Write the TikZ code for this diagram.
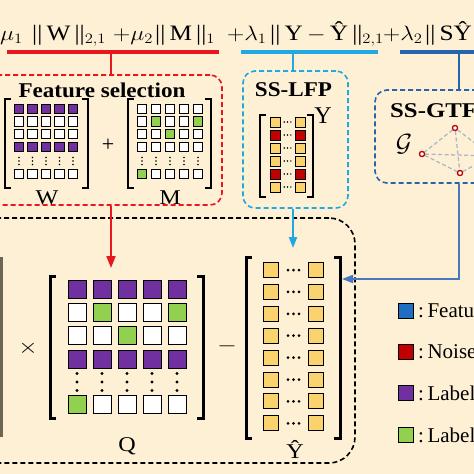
\documentclass[tikz,border=0pt]{standalone}
\usepackage{graphicx}
\usepackage{fontspec}
\setmainfont{Liberation Serif}
\usetikzlibrary{arrows.meta}
\definecolor{bg}{HTML}{FDF0D5}
\definecolor{cpurple}{HTML}{7030A0}
\definecolor{cgreen}{HTML}{92D050}
\definecolor{cyellow}{HTML}{FAD36E}
\definecolor{cred}{HTML}{C00000}
\definecolor{cblue}{HTML}{1F6EC0}
\definecolor{lred}{HTML}{E8161E}
\definecolor{lcyan}{HTML}{22A8E0}
\definecolor{dblue}{HTML}{2565AE}
\definecolor{ablue}{HTML}{4A78C0}
\definecolor{gbar}{HTML}{6E6654}
\definecolor{gline}{HTML}{AEB6C8}
\newcommand\wide[2]{\scalebox{#1}[1]{#2}}
\tikzset{
  cell/.style={draw=black, line width=0.9pt, inner sep=0pt, outer sep=0pt},
  brk/.style={draw=black, line cap=butt, line join=miter},
  eqtext/.style={inner sep=0pt, anchor=base west, font=\fontsize{22}{26}\selectfont},
  ttl/.style={inner sep=0pt, font=\fontsize{21}{24}\selectfont\bfseries},
  lbl/.style={inner sep=0pt, font=\fontsize{21}{24}\selectfont},
  dashbox/.style={line width=1.6pt, dash pattern=on 5pt off 3pt, rounded corners=12pt, inner sep=0pt, fill=none},
  gnode/.style={circle, draw=cred, fill=white, line width=1.2pt, minimum size=5pt, inner sep=0pt},
  gedge/.style={draw=gline, line width=1.3pt, dash pattern=on 4pt off 2.5pt},
  legsq/.style={draw=black, line width=0.9pt, minimum size=15pt, inner sep=0pt},
  legtxt/.style={inner sep=0pt, anchor=west, font=\fontsize{21}{24}\selectfont},
}
\newcommand\cellrow[6]{\foreach \cc [count=\k] in {#6}{\node[cell, minimum size=#5pt, fill=\cc] (#1-\k) at ({#3+(\k-1)*#4},#2) {};}}
\newcommand\vdotsat[4]{\foreach \dd in {-1,0,1}{\fill ({#1},{#2+\dd*#3}) circle[radius=#4pt];}}
\newcommand\hdotsat[4]{\foreach \dd in {-1,0,1}{\fill ({#1+\dd*#3},{#2}) circle[radius=#4pt];}}
\newcommand\lbrak[4]{\draw[brk, line width=#4pt] ({#1+6},#2) -- (#1,#2) -- (#1,#3) -- ({#1+6},#3);}
\newcommand\rbrak[4]{\draw[brk, line width=#4pt] ({#1-6},#2) -- (#1,#2) -- (#1,#3) -- ({#1-6},#3);}
\begin{document}
\begin{tikzpicture}[x=1pt,y=-1pt]
\useasboundingbox (0,0) rectangle (474,474);
\fill[bg] (0,0) rectangle (474,474);
\clip (0,0) rectangle (474,474);

% ---- equation
\node[eqtext, anchor=base east] (e1) at (23,40) {\wide{1.15}{$-\mu_1$}};
\node[eqtext] (e2) at (32,40) {\wide{1.15}{||\,W\,||$_{2,1}$}};
\node[eqtext] (e3) at (113,40) {\wide{1.15}{$+\mu_2$}};
\node[eqtext] (e4) at (155,40) {\wide{1.15}{||\,M\,||$_1$}};
\node[eqtext] (e5) at (227,40) {\wide{1.15}{$+\lambda_1$}};
\node[eqtext] (e6) at (270,40) {\wide{1.15}{||\,Y\,$-$\,Ŷ\,||$_{2,1}$}};
\node[eqtext] (e7) at (383,40) {\wide{1.15}{$+\lambda_2$}};
\node[eqtext] (e8) at (425,40) {\wide{1.15}{||\,SŶ}};

% ---- underlines
\coordinate (rl1) at (7,52); \coordinate (rl2) at (219,52);
\coordinate (cl1) at (241,52); \coordinate (cl2) at (378,52);
\coordinate (bl1) at (400,52); \coordinate (bl2) at (480,52);
\draw[lred, line width=3.2pt] (rl1) -- (rl2);
\draw[lcyan, line width=3.2pt] (cl1) -- (cl2);
\draw[dblue, line width=3.2pt] (bl1) -- (bl2);
\coordinate (rt) at (111,52);
\coordinate (ct) at (293,52);
\coordinate (bt) at (459,52);

% ---- boxes
\node[dashbox, draw=lred, minimum width=236pt, minimum height=130pt] (fs) at (104,140) {};
\node[dashbox, draw=lcyan, minimum width=105pt, minimum height=137pt] (lfp) at (295.5,139.5) {};
\node[dashbox, draw=dblue, minimum width=130pt, minimum height=93pt] (gtf) at (440,136.5) {};
\node[dashbox, draw=black, rounded corners=26pt, minimum width=385pt, minimum height=245pt] (big) at (162.5,340.5) {};

\draw[lred, line width=2pt] (rt) -- (rt |- fs.north);
\draw[lcyan, line width=2pt] (ct) -- (ct |- lfp.north);
\draw[dblue, line width=2pt] (bt) -- (bt |- gtf.north);

% ---- titles
\node[ttl] (tfs) at (102,90) {\wide{1.1}{Feature selection}};
\node[ttl] (tlfp) at (293.5,90) {\wide{1.1}{SS-LFP}};
\node[ttl, anchor=west] (tgtf) at (390,111) {\wide{1.18}{SS-GTF}};

% ---- W matrix
\lbrak{5}{99}{188}{2.6}
\rbrak{88}{99}{188}{2.6}
\cellrow{w1}{109}{19}{13.5}{9.5}{cpurple,cpurple,cpurple,cpurple,cpurple}
\cellrow{w2}{121.5}{19}{13.5}{9.5}{white,white,white,white,white}
\cellrow{w3}{134}{19}{13.5}{9.5}{white,white,white,white,white}
\cellrow{w4}{147}{19}{13.5}{9.5}{cpurple,cpurple,cpurple,cpurple,cpurple}
\cellrow{w5}{174}{19}{13.5}{9.5}{white,white,white,white,white}
\foreach \i in {0,...,4}{\vdotsat{19+\i*13.5}{161}{3.5}{0.9}}
\node[lbl] (lw) at (47,198) {\wide{1.15}{W}};
\node[eqtext, anchor=center] (plus) at (108,145) {+};

% ---- M matrix
\lbrak{128}{99}{188}{2.6}
\rbrak{211}{99}{188}{2.6}
\cellrow{m1}{109}{142}{14}{9.5}{white,white,white,white,white}
\cellrow{m2}{121.5}{142}{14}{9.5}{white,cgreen,white,white,cgreen}
\cellrow{m3}{134}{142}{14}{9.5}{white,white,cgreen,white,white}
\cellrow{m4}{147}{142}{14}{9.5}{white,white,white,white,white}
\cellrow{m5}{174}{142}{14}{9.5}{cgreen,white,white,white,white}
\foreach \i in {0,...,4}{\vdotsat{142+\i*14}{161}{3.5}{0.9}}
\node[lbl] (lm) at (170,198) {\wide{1.15}{M}};

% ---- Y matrix
\lbrak{260}{115}{197}{2.6}
\rbrak{313}{115}{197}{2.6}
\foreach \cl [count=\r] in {cyellow,cred,cyellow,cyellow,cred,cyellow}{
  \node[cell, minimum size=10pt, fill=\cl] (ya\r) at (275,{109+\r*13}) {};
  \node[cell, minimum size=10pt, fill=\cl] (yb\r) at (300,{109+\r*13}) {};
  \hdotsat{287.5}{109+\r*13}{3.3}{0.8}
}
\node[inner sep=0pt, font=\fontsize{24}{28}\selectfont] (ly) at (323,116) {Y};

% ---- graph
\node[inner sep=0pt, font=\fontsize{24}{26}\selectfont] (calg) at (404,144) {$\mathcal{G}$};
\node[gnode] (g1) at (455,128) {};
\node[gnode] (g2) at (422,154) {};
\node[gnode] (g3) at (460,173) {};
\coordinate (g4) at (492,156);
\draw[gedge] (g1) -- (g2);
\draw[gedge] (g1) -- (g3);
\draw[gedge] (g2) -- (g3);
\draw[gedge] (g2) -- (g4);
\draw[gedge] (g1) -- (g4);
\draw[gedge] (g3) -- (g4);
\node[gnode] at (g1) {};
\node[gnode] at (g2) {};
\node[gnode] at (g3) {};

% ---- left bar and operators
\fill[gbar] (0,257) rectangle (3,437);
\node[lbl] (times) at (28,348) {\wide{1.2}{$\times$}};
\node[lbl] (minus) at (227,346) {\wide{1.2}{$-$}};

% ---- Q matrix
\lbrak{50}{276}{418}{3}
\rbrak{203}{276}{418}{3}
\cellrow{q1}{289}{77}{25}{18}{cpurple,cpurple,cpurple,cpurple,cpurple}
\cellrow{q2}{312.3}{77}{25}{18}{white,cgreen,white,white,cgreen}
\cellrow{q3}{335.6}{77}{25}{18}{white,white,cgreen,white,white}
\cellrow{q4}{359}{77}{25}{18}{cpurple,cpurple,cpurple,cpurple,cpurple}
\cellrow{q5}{404}{77}{25}{18}{cgreen,white,white,white,white}
\foreach \i in {0,...,4}{\vdotsat{77+\i*25}{382}{8.5}{1.7}}
\node[lbl] (lq) at (127,446) {\wide{1.15}{Q}};
\coordinate (qtop) at (111,268);

% ---- Yhat matrix
\lbrak{246}{257}{438}{3}
\rbrak{340}{257}{438}{3}
\foreach \r in {0,...,7}{
  \node[cell, minimum size=15pt, fill=cyellow] (ha\r) at (271,{270+\r*21.9}) {};
  \node[cell, minimum size=15pt, fill=cyellow] (hb\r) at (316,{270+\r*21.9}) {};
  \hdotsat{293.5}{270+\r*21.9}{5.5}{1.5}
}
\node[lbl] (lyh) at (295,449) {\wide{1.15}{Ŷ}};
\coordinate (htop) at (293,248);
\coordinate (hright) at (342,279);

% ---- connectors
\draw[lred, line width=2pt, -{Triangle[length=12pt,width=9pt]}] (rt |- fs.south) -- (qtop);
\draw[lcyan, line width=2pt, -{Triangle[length=11pt,width=8pt]}] (ct |- lfp.south) -- (htop);
\draw[ablue, line width=2pt, -{Triangle[length=11pt,width=8pt]}] (bt |- gtf.south) |- (hright);

% ---- legend
\node[legsq, fill=cblue] (k1) at (405.5,311) {};
\node[legsq, fill=cred] (k2) at (405.5,352) {};
\node[legsq, fill=cpurple] (k3) at (405.5,393) {};
\node[legsq, fill=cgreen] (k4) at (405.5,435) {};
\node[legtxt] (t1) at (418,311) {:\,Feature};
\node[legtxt] (t2) at (418,352) {:\,Noise};
\node[legtxt] (t3) at (418,393) {:\,Label};
\node[legtxt] (t4) at (418,435) {:\,Label};
\end{tikzpicture}
\end{document}
